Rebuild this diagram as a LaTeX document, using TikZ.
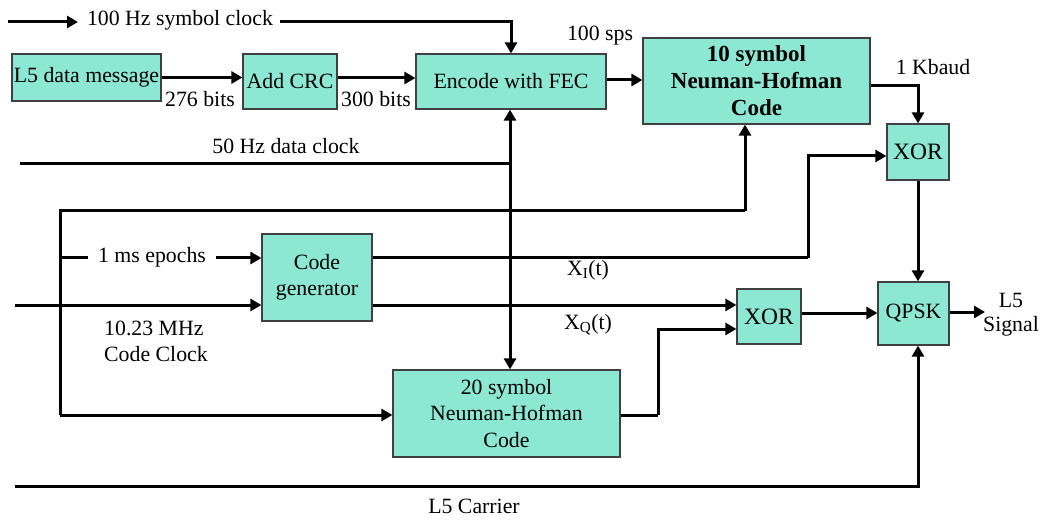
\documentclass[tikz,border=0pt]{standalone}
\usepackage{fontspec}
\setmainfont{Liberation Serif}
\usetikzlibrary{arrows.meta}
\definecolor{boxfill}{HTML}{8DE8D3}
\definecolor{boxline}{HTML}{404040}
\begin{document}
\begin{tikzpicture}[x=1pt,y=-1pt,
  txt/.style={font=\fontsize{21.8}{26.5}\selectfont, inner sep=0pt, align=center},
  box/.style={txt, draw=boxline, line width=1.2pt, fill=boxfill, inner sep=1pt},
  wire/.style={line width=3pt, line cap=butt},
  arr/.style={wire, -{Triangle[length=11pt,width=12pt]}}
]
\useasboundingbox (0,0) rectangle (1040,526);

% boxes
\node[box, minimum width=149pt, minimum height=47pt] (msg) at (86.5,77.5) {L5 data message};
\node[box, minimum width=94pt, minimum height=55pt] (crc) at (290,81.5) {Add CRC};
\node[box, minimum width=190pt, minimum height=55pt] (fec) at (511,81.5) {Encode with FEC};
\node[box, minimum width=227pt, minimum height=86pt, font=\fontsize{23}{27}\selectfont\bfseries] (nhten) at (756.5,81) {10 symbol\\Neuman-Hofman\\Code};
\node[box, minimum width=62pt, minimum height=56pt, font=\fontsize{23.5}{27}\selectfont] (xorone) at (918,152) {XOR};
\node[box, minimum width=71pt, minimum height=63pt] (qpsk) at (913.5,313.5) {QPSK};
\node[box, minimum width=64pt, minimum height=55pt, font=\fontsize{23.5}{27}\selectfont] (xortwo) at (769,316.5) {XOR};
\node[box, minimum width=110pt, minimum height=87pt] (cgen) at (317,277.5) {Code\\generator};
\node[box, minimum width=227pt, minimum height=87pt] (nhtwenty) at (506.5,413.5) {20 symbol\\Neuman-Hofman\\Code};

% labels
\node[txt] (lsym) at (180,20) {100 Hz symbol clock};
\node[txt] (lbitsa) at (200,99) {276 bits};
\node[txt] (lbitsb) at (376,99) {300 bits};
\node[txt] (lsps) at (600,36) {100 sps};
\node[txt] (lkbaud) at (933,67) {1 Kbaud};
\node[txt] (ldata) at (286,146) {50 Hz data clock};
\node[txt] (lms) at (152,257) {1 ms epochs};
\node[txt, align=left, anchor=west] (lcclk) at (104,341.5) {10.23 MHz\\Code Clock};
\node[txt] (lxi) at (588,270) {X\textsubscript{I}(t)};
\node[txt] (lxq) at (588,325) {X\textsubscript{Q}(t)};
\node[txt] (lcar) at (474,506) {L5 Carrier};
\node[txt, font=\fontsize{21.8}{24}\selectfont] (lsig) at (1011,315) {L5\\Signal};

% coordinates
\coordinate (symA) at (8,22);
\coordinate (symB) at (78,22);
\coordinate (symC) at (280,22);
\coordinate (dclk) at (20,164);
\coordinate (junc) at (510,164);
\coordinate (busT) at (60,211);
\coordinate (busM) at (60,258);
\coordinate (busB) at (60,415);
\coordinate (msA) at (88,258);
\coordinate (msB) at (216,258);
\coordinate (cclk) at (15,305);
\coordinate (car) at (15,486);
\coordinate (xiturn) at (808,258);
\coordinate (xqturn) at (658,415);
\coordinate (sigend) at (985,312);

% connectors
\draw[arr] (symA) -- (symB);
\draw[arr] (symC) -| (fec.north);
\draw[arr] (msg.east) -- (msg.east -| crc.west);
\draw[arr] (crc.east |- 0,78) -- (fec.west |- 0,78);
\draw[arr] (fec.east |- 0,80) -- (nhten.west |- 0,80);
\draw[arr] (nhten.east |- 0,86) -| (xorone.north);
\draw[arr] (xorone.south) -- (xorone.south |- qpsk.north);
\draw[arr] (qpsk.east |- sigend) -- (sigend);
\draw[arr] (xortwo.east |- 0,313) -- (qpsk.west |- 0,313);

\draw[wire] (dclk) -- (junc);
\draw[arr] (junc) -- (junc |- fec.south);
\draw[arr] (junc) -- (junc |- nhtwenty.north);

\draw[wire, line join=miter] (busB) -- (busT) -- (745,211);
\draw[arr] (745,211) -- (745,0 |- nhten.south);
\draw[wire] (busM) -- (msA);
\draw[arr] (msB) -- (msB -| cgen.west);
\draw[arr] (busB) -- (busB -| nhtwenty.west);
\draw[arr] (cclk) -- (cclk -| cgen.west);

\draw[wire] (cgen.east |- xiturn) -- (xiturn);
\draw[arr] (xiturn) |- (xorone.west |- 0,156);
\draw[arr] (cgen.east |- cclk) -- (xortwo.west |- cclk);
\draw[wire] (nhtwenty.east |- xqturn) -- (xqturn);
\draw[arr] (xqturn) |- (xortwo.west |- 0,329);

\draw[arr] (car) -| (918,0 |- qpsk.south);
\end{tikzpicture}
\end{document}
